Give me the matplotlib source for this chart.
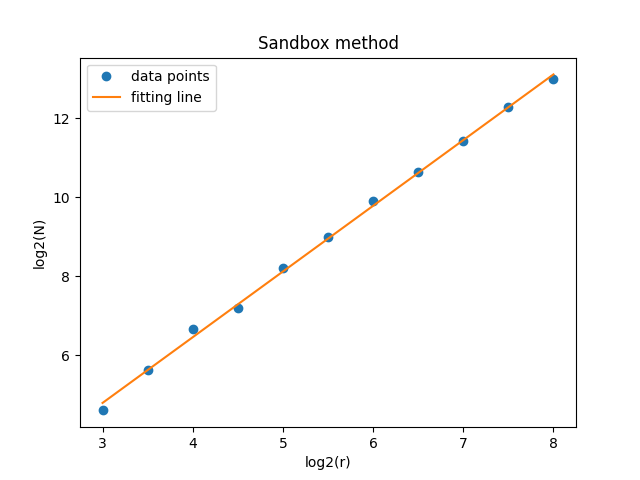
import numpy as np
import matplotlib
matplotlib.use("Agg")
import matplotlib.pyplot as plt

log_r = [3, 3.5, 4, 4.5, 5, 5.5, 6, 6.5, 7, 7.5, 8]
log_n = [4.61, 5.62, 6.66, 7.19, 8.20, 8.99, 9.90, 10.63, 11.42, 12.28, 12.99]

coef = np.polyfit(log_r, log_n, 1)
fit = np.polyval(coef, log_r)

fig, ax = plt.subplots(figsize=(6.4, 4.8), dpi=100)
ax.plot(log_r, log_n, 'o', label='data points')
ax.plot(log_r, fit, label='fitting line')
ax.set_title('Sandbox method')
ax.set_xlabel('log2(r)')
ax.set_ylabel('log2(N)')
ax.legend()
fig.savefig('out.png')
